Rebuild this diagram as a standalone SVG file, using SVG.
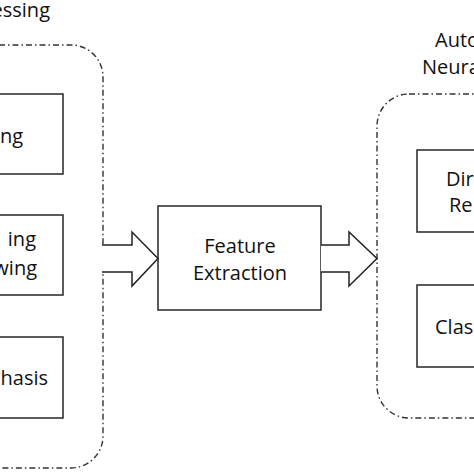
<svg xmlns="http://www.w3.org/2000/svg" width="474" height="474" viewBox="0 0 474 474">
<style>
  .box { fill: #fff; stroke: #333; stroke-width: 1.6; }
  .group { fill: none; stroke: #333; stroke-width: 1.4; stroke-dasharray: 6 3 1.5 3; }
  .arrow { fill: #fff; stroke: #222; stroke-width: 1.5; stroke-linejoin: miter; }
  text { font-family: "Open Sans", "Liberation Sans", sans-serif; font-size: 20px; fill: #111; }
  .e { text-anchor: end; }
  .m { text-anchor: middle; }
</style>
<rect width="474" height="474" fill="#fff"/>
<g id="preprocessing">
  <rect class="group" x="-60" y="45" width="163" height="423" rx="32" ry="32"/>
  <text class="e" x="50" y="17">essing</text>
</g>
<g id="node-1">
  <rect class="box" x="-30" y="94" width="93" height="80"/>
  <text class="e" x="23" y="143">ng</text>
</g>
<g id="node-2">
  <rect class="box" x="-30" y="215" width="93" height="80"/>
  <text class="e" x="36" y="246">ing</text>
  <text class="e" x="37" y="275">wing</text>
</g>
<g id="node-3">
  <rect class="box" x="-30" y="337" width="93" height="81"/>
  <text class="e" x="48" y="385">hasis</text>
</g>
<g id="feature-extraction">
  <rect class="box" x="158" y="206" width="163" height="104"/>
  <text class="m" x="240" y="253">Feature</text>
  <text class="m" x="240" y="280">Extraction</text>
</g>
<g id="automatic-neural">
  <rect class="group" x="377" y="94" width="160" height="324" rx="32" ry="32"/>
  <text x="435" y="47">Auto</text>
  <text x="422" y="74">Neura</text>
</g>
<g id="node-a">
  <rect class="box" x="417" y="150" width="80" height="82"/>
  <text x="446" y="186">Dir</text>
  <text x="449" y="212">Re</text>
</g>
<g id="node-b">
  <rect class="box" x="417" y="285" width="80" height="82"/>
  <text x="435" y="334">Clas</text>
</g>
<g id="connectors">
  <path class="arrow" d="M102,245 H132 V232 L158,258.5 L132,286 V272 H102"/>
  <path class="arrow" d="M321,245 H349 V232 L377,258.5 L349,286 V272 H321"/>
</g>
</svg>
